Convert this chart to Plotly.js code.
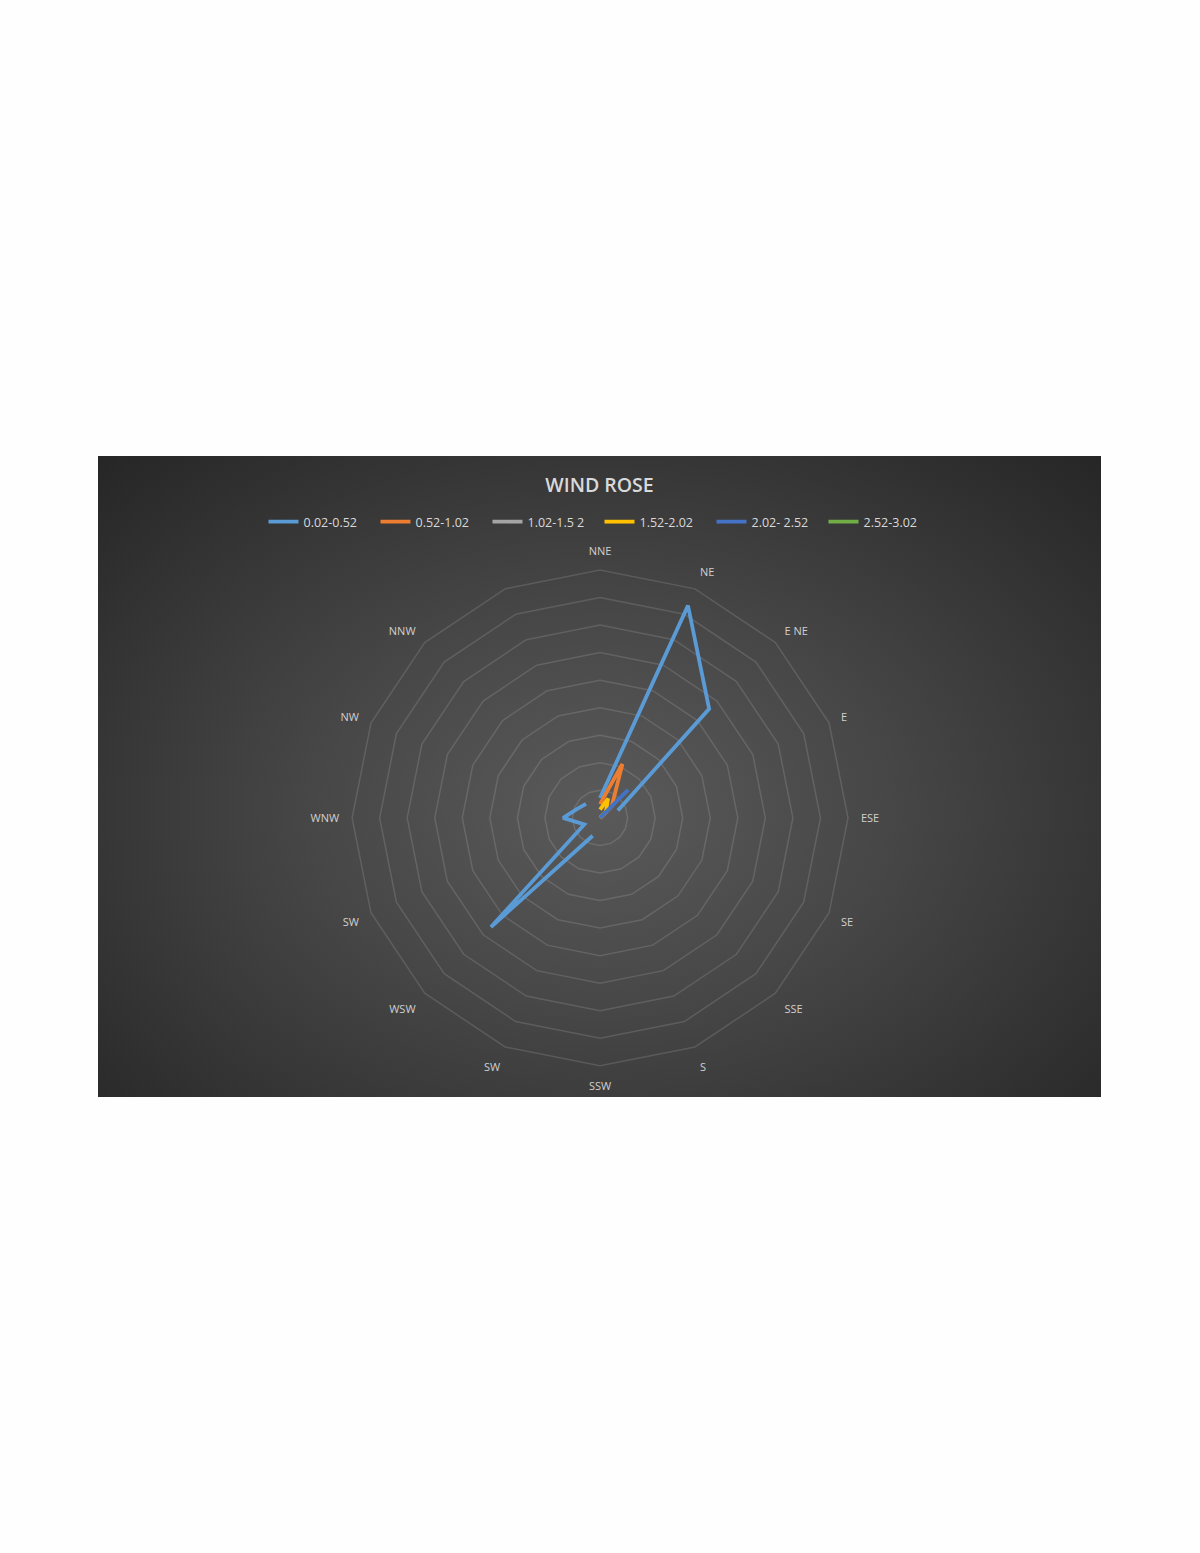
<!DOCTYPE html>
<html>
<head>
<meta charset="utf-8">
<script src="https://cdn.plot.ly/plotly-3.0.1.min.js"></script>
<style>
  body { margin: 0; background: #fefefe; }
  #plot1 {
    position: absolute; left: 98px; top: 456px; width: 1003px; height: 641px;
    background: radial-gradient(ellipse at 50% 55%, #5a5a5a 0%, #474747 40%, #2e2e2e 85%, #262626 100%);
  }
</style>
</head>
<body>
<div id="plot1"></div>
<script>
  // 16 sectors, labels as they appear on the sheet (one blank, SW twice)
  var dirKeys = ['NNE', 'NE', 'ENE', 'E', 'ESE', 'SE', 'SSE', 'S', 'SSW', 'SW', 'WSW', 'SW2', 'WNW', 'NW', 'NNW', 'N'];
  var dirLabels = ['NNE', 'NE', 'E NE', 'E', 'ESE', 'SE', 'SSE', 'S', 'SSW', 'SW', 'WSW', 'SW', 'WNW', 'NW', 'NNW', ''];

  var bins = ['0.02-0.52', '0.52-1.02', '1.02-1.5 2', '1.52-2.02', '2.02- 2.52', '2.52-3.02'];

  var s1 = [3.6, 41.7, 28, 3.5, null, null, null, null, null, 3.5, 28, 3.1, 6.7, 4.4, 3.6, null];
  var s2 = [2.5, 10.6, 3, 0, null, null, null, null, null, null, null, null, null, null, null, null];
  var s3 = [0, 0, 0, 0, 0, 0, 0, 0, 0, 0, 0, 0, 0, 0, 0, 0];
  var s4 = [1.5, 3.8, 1.5, 0, null, null, null, null, null, null, null, null, null, null, null, null];
  var s5 = [0, 0, 7.2, 0, null, null, null, null, null, null, null, null, null, null, null, null];
  var s6 = [0, 0, 0, 0, 0, 0, 0, 0, 0, 0, 0, 0, 0, 0, 0, 0];

  var colors = ['#5b9bd5', '#ed7d31', '#a5a5a5', '#ffc000', '#4472c4', '#70ad47'];
  var series = [s1, s2, s3, s4, s5, s6];

  var data = series.map(function (r, i) {
    return {
      type: 'scatterpolar',
      mode: 'lines',
      r: r,
      theta: dirKeys,
      name: bins[i],
      line: {color: colors[i], width: 3.8},
      connectgaps: false,
      hoverinfo: 'skip'
    };
  });

  var gridCol = 'rgba(255,255,255,0.13)';

  var layout = {
    width: 1003,
    height: 641,
    paper_bgcolor: 'rgba(0,0,0,0)',
    margin: {l: 0, r: 0, t: 0, b: 0},
    font: {family: 'Open Sans, sans-serif', color: '#d0d0d0'},
    title: {
      text: 'WIND ROSE',
      x: 0.5, xanchor: 'center',
      y: 0.955, yanchor: 'middle',
      font: {size: 19.5, color: '#d9d9d9', family: 'Open Sans, sans-serif', weight: 600}
    },
    showlegend: true,
    legend: {
      orientation: 'h',
      x: 0.5, xanchor: 'center',
      y: 0.897, yanchor: 'middle',
      font: {size: 12.5, color: '#d9d9d9'},
      entrywidth: 67,
      entrywidthmode: 'pixels',
      itemwidth: 30,
      bgcolor: 'rgba(0,0,0,0)'
    },
    polar: {
      bgcolor: 'rgba(0,0,0,0)',
      domain: {x: [0.2533, 0.7478], y: [0.0486, 0.8222]},
      gridshape: 'linear',
      radialaxis: {
        range: [0, 45],
        dtick: 5,
        showticklabels: false,
        ticks: '',
        showline: false,
        showgrid: true,
        gridcolor: gridCol,
        gridwidth: 1.5
      },
      angularaxis: {
        type: 'category',
        categoryarray: dirKeys,
        tickmode: 'array',
        tickvals: dirKeys,
        ticktext: dirLabels,
        rotation: 90,
        direction: 'clockwise',
        showgrid: false,
        showline: true,
        linecolor: gridCol,
        linewidth: 1.5,
        ticks: 'outside',
        ticklen: 10,
        tickcolor: 'rgba(0,0,0,0)',
        tickfont: {size: 11, color: '#d0d0d0'}
      }
    }
  };

  Plotly.newPlot('plot1', data, layout, {displayModeBar: false, staticPlot: true});
</script>
</body>
</html>
